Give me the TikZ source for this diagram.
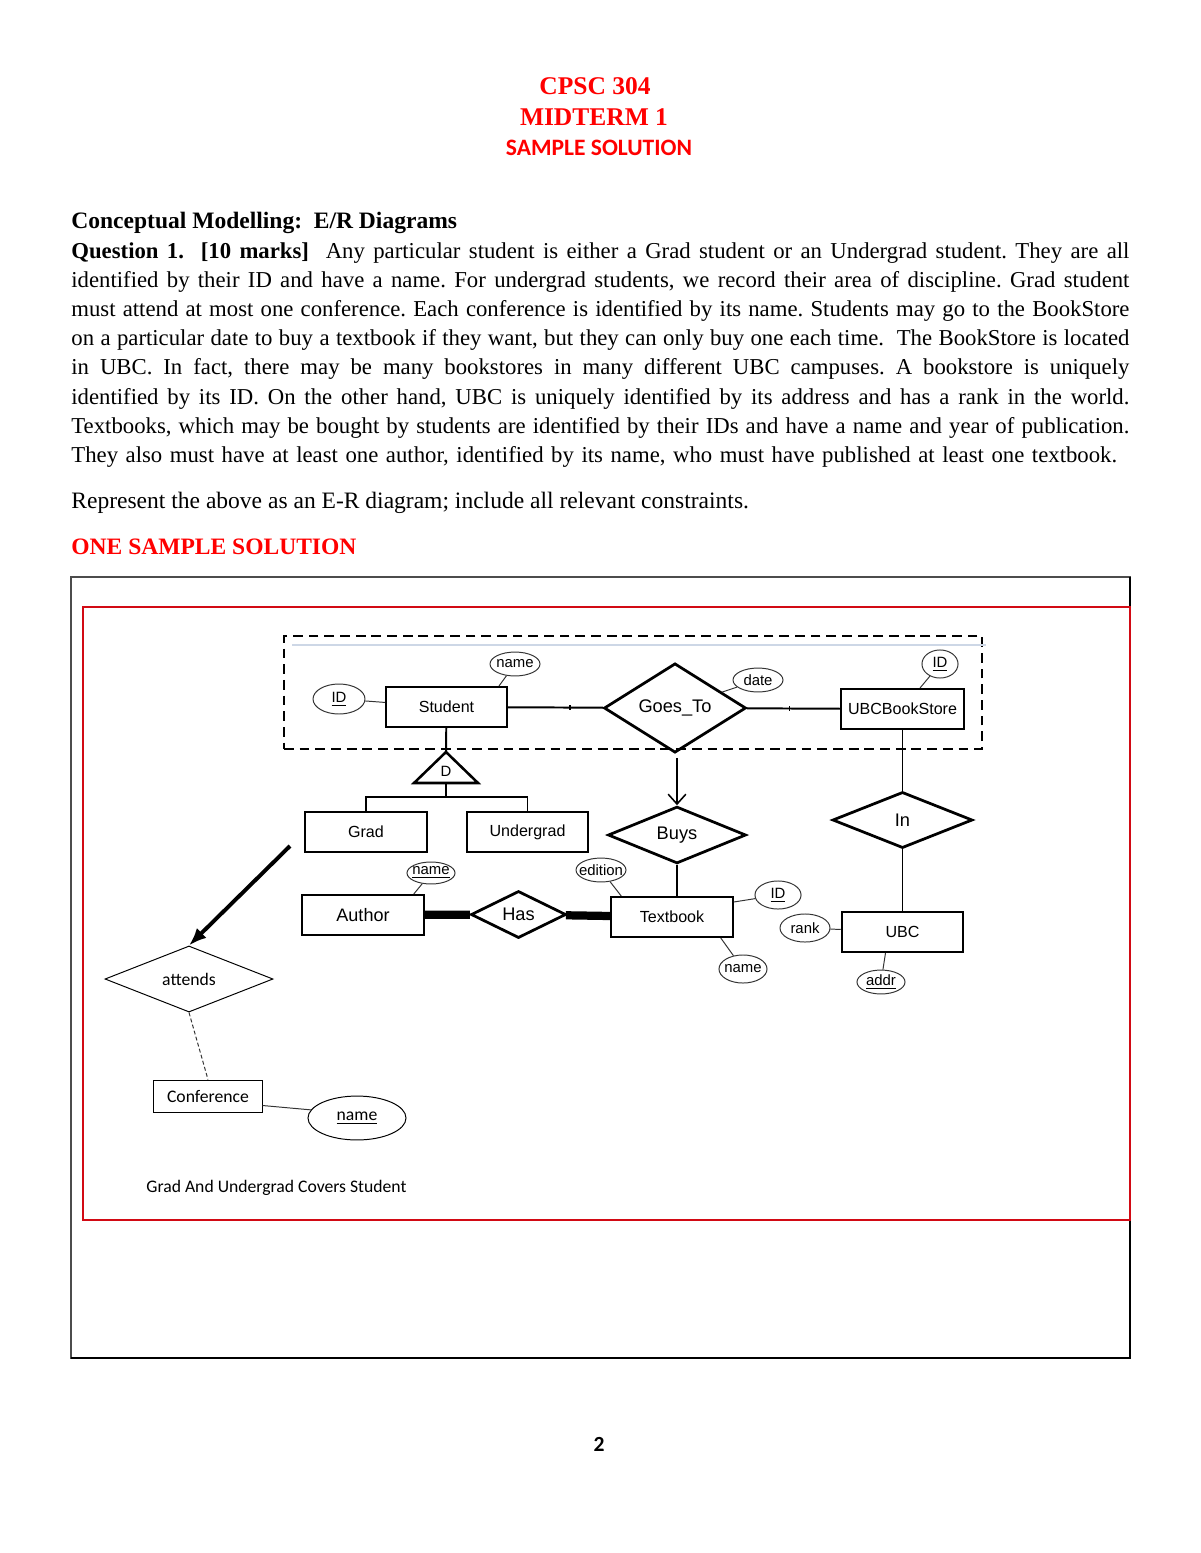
\documentclass[tikz,border=0pt]{standalone}
\usepackage{fontspec}
\setmainfont{Liberation Serif}
\setsansfont{Liberation Sans}
\newfontfamily\calibri{Carlito}
\usetikzlibrary{shapes.geometric, arrows.meta, positioning, calc}

\definecolor{titlered}{RGB}{255,0,0}
\definecolor{boxred}{RGB}{210,10,20}
\definecolor{faintblue}{RGB}{205,215,230}

\newcommand{\att}[1]{\makebox[0pt]{#1}}
\newcommand{\fullline}[1]{\leavevmode\hbox to 539.6pt{\spaceskip=0.25em plus 0.6em minus 0.1em\relax #1}}
\frenchspacing

\begin{document}
\begin{tikzpicture}[x=0.51pt, y=-0.51pt,
    entity/.style={rectangle, draw, line width=1pt, minimum width=62pt, minimum height=20.4pt,
        inner sep=1pt, font=\sffamily\fontsize{8.2}{9}\selectfont},
    rel/.style={diamond, draw, line width=1.4pt, inner sep=0pt, font=\sffamily\fontsize{9.3}{10}\selectfont},
    attr/.style={ellipse, draw=black!80, line width=0.5pt, inner sep=0pt,
        font=\sffamily\fontsize{7.6}{8}\selectfont},
    aggbox/.style={rectangle, draw, line width=1.2pt, dash pattern=on 5pt off 3pt,
        minimum width=356pt, minimum height=57.6pt},
    link/.style={line width=0.5pt, black!80},
    erline/.style={line width=1pt},
    heavy/.style={line width=4.2pt},
    crossmark/.style={fill, inner sep=0pt, minimum width=0.7pt, minimum height=2.6pt},
    buysarr/.style={-{Straight Barb[length=5pt, width=9pt]}, line width=0.8pt},
    attarr/.style={-{Latex[length=9pt, width=7pt]}, line width=2pt},
    body/.style={inner sep=0pt, font=\fontsize{11.6}{14.9}\selectfont},
    single/.style={inner sep=0pt, font=\fontsize{12}{14.9}\selectfont},
    calib/.style={inner sep=0pt, font=\calibri\fontsize{9}{10}\selectfont}
]
    \fill[white] (0,0) rectangle (1200,1553);
    \useasboundingbox (0,0) rectangle (1200,1553);

    % Header
    \node[inner sep=0pt, font=\bfseries\fontsize{13}{15}\selectfont, text=titlered, anchor=base] (course) at (595,95) {CPSC 304};
    \node[inner sep=0pt, font=\bfseries\fontsize{13}{15}\selectfont, text=titlered, anchor=base] (exam) at (594,126) {MIDTERM 1};
    \node[inner sep=0pt, font=\calibri\bfseries\fontsize{12}{14}\selectfont, text=titlered, anchor=base] (sol) at (599,156) {SAMPLE SOLUTION};

    % Question text
    \node[single, font=\bfseries\fontsize{12}{14.9}\selectfont, anchor=base west] (topic) at (71,229) {Conceptual Modelling:\ \ E/R Diagrams};
    \node[body, text width=539.6pt, align=left, anchor=base west] (question) at (71,258) {%
        \fullline{\textbf{Question 1.\ \ [10 marks]}\ \ Any particular student is either a Grad student or an Undergrad student. They are all}\\
        \fullline{identified by their ID and have a name. For undergrad students, we record their area of discipline. Grad student}\\
        \fullline{must attend at most one conference. Each conference is identified by its name. Students may go to the BookStore}\\
        \fullline{on a particular date to buy a textbook if they want, but they can only buy one each time.\ \ The BookStore is located}\\
        \fullline{in UBC. In fact, there may be many bookstores in many different UBC campuses. A bookstore is uniquely}\\
        \fullline{identified by its ID. On the other hand, UBC is uniquely identified by its address and has a rank in the world.}\\
        \fullline{Textbooks, which may be bought by students are identified by their IDs and have a name and year of publication.}\\
        \leavevmode\hbox{They also must have at least one author, identified by its name, who must have published at least one textbook.}};
    \node[single, anchor=base west] (task) at (71,508) {Represent the above as an E-R diagram; include all relevant constraints.};
    \node[single, font=\bfseries\fontsize{12}{14.9}\selectfont, text=titlered, anchor=base west] (onesol) at (71,554) {ONE SAMPLE SOLUTION};

    % Frames
    \draw[line width=0.7pt, black!70] (71,577) rectangle (1130,1358);
    \draw[line width=1.3pt] (1130,577) -- (1130,1358) -- (71,1358);
    \draw[boxred, line width=1.5pt] (83,607) rectangle (1130,1220);

    % Aggregation Student - Goes_To - UBCBookStore
    \node[aggbox] (agg) at (633,692.5) {};
    \draw[faintblue, line width=0.6pt] (292,645) -- (986,645);

    \node[entity, minimum width=61.7pt] (student) at (446.5,707) {Student};
    \node[attr, minimum width=26.5pt, minimum height=15.3pt] (sid) at (339,699) {\att{\underline{ID}}};
    \node[attr, minimum width=25.5pt, minimum height=12.2pt] (sname) at (515,664) {\att{name}};
    \node[rel, minimum width=72.4pt, minimum height=28.6pt] (goesto) at (675,708) {Goes\_To};
    \node[attr, minimum width=25.5pt, minimum height=12.2pt] (date) at (758,680) {\att{date}};
    \node[entity, minimum width=62.7pt] (store) at (902.5,709) {UBCBookStore};
    \node[attr, minimum width=18.4pt, minimum height=14.3pt] (bid) at (940,664) {\att{\underline{ID}}};

    % ISA
    \draw[line width=1.3pt] (446,752) coordinate (isatop) -- (478,783) -- (414,783) -- cycle;
    \coordinate (isabot) at (446,783);
    \node[inner sep=0pt, font=\sffamily\fontsize{7.6}{8}\selectfont] (isalbl) at (446,771) {D};
    \node[entity] (grad) at (366,832) {Grad};
    \node[entity, minimum width=61.7pt] (ugrad) at (527.5,832) {Undergrad};

    % Lower part
    \node[rel, minimum width=70.4pt, minimum height=27.5pt] (buys) at (677,835) {Buys};
    \node[rel, minimum width=71.4pt, minimum height=28.6pt] (inrel) at (902.5,820) {In};
    \node[entity, font=\sffamily\fontsize{9.2}{10}\selectfont] (author) at (363,915) {Author};
    \node[attr, minimum width=24.5pt, minimum height=11.2pt] (aname) at (431,873) {\att{\underline{name}}};
    \node[rel, minimum width=48.5pt, minimum height=24pt] (has) at (518.5,914.5) {Has};
    \node[entity] (textbook) at (672,917) {Textbook};
    \node[attr, minimum width=25.5pt, minimum height=12.2pt] (edition) at (601,870) {\att{edition}};
    \node[attr, minimum width=23.5pt, minimum height=14.3pt] (tid) at (778,895) {\att{\underline{ID}}};
    \node[attr, minimum width=24.5pt, minimum height=14.3pt] (tname) at (743,969) {\att{name}};
    \node[entity] (ubc) at (902.5,932) {UBC};
    \node[attr, minimum width=25.5pt, minimum height=14.3pt] (rank) at (805,928) {\att{rank}};
    \node[attr, minimum width=24.5pt, minimum height=12.2pt] (addr) at (881,982) {\att{\underline{addr}}};

    % Grad attends Conference
    \node[diamond, draw, line width=0.5pt, inner sep=0pt, minimum width=85.7pt, minimum height=33.7pt,
        font=\calibri\fontsize{9}{10}\selectfont] (attends) at (189,979) {attends};
    \node[rectangle, draw, line width=0.5pt, minimum width=55.1pt, minimum height=16.8pt,
        font=\calibri\fontsize{9}{10}\selectfont] (conf) at (208,1096.5) {Conference};
    \node[ellipse, draw, line width=0.5pt, inner sep=0pt, minimum width=50pt, minimum height=22.4pt,
        font=\calibri\fontsize{9}{10}\selectfont] (cname) at (357,1118) {\underline{name}};
    \coordinate (gradout) at (290,846);

    % Connectors
    \draw[link] (sid) -- (student);
    \draw[link] (sname) -- ($(student.north east)+(-9,0)$);
    \draw[erline] (student) -- node[pos=0.65, crossmark] {} (goesto);
    \draw[erline] (goesto) -- node[pos=0.46, crossmark] {} (store);
    \draw[link] (date) -- (goesto);
    \draw[link] (bid) -- (store);
    \draw[erline] (student) -- (isatop);
    \draw[line width=0.8pt] (isabot) -- ++(0,14) coordinate (isajoin);
    \draw[line width=0.8pt] (grad.north) |- (isajoin) -| (ugrad.north);
    \draw[buysarr, shorten <=4pt] (agg.south -| buys) -- (buys.north);
    \draw[erline] (buys.south) -- (buys.south |- textbook.north);
    \draw[heavy] (author) -- (has);
    \draw[heavy] (has) -- (textbook);
    \draw[link] (aname) -- ($(author.north east)+(-11,0)$);
    \draw[link] (edition) -- ($(textbook.north west)+(11,0)$);
    \draw[link] (tid) -- ($(textbook.east)+(0,-15)$);
    \draw[link] (tname) -- ($(textbook.south east)+(-13,0)$);
    \draw[erline] (store) -- (inrel);
    \draw[erline] (inrel) -- (ubc);
    \draw[link] (rank) -- (ubc);
    \draw[link] (addr) -- ($(ubc.south)+(-17,0)$);
    \draw[attarr] (gradout) -- (attends.north);
    \draw[link, dash pattern=on 2pt off 1.2pt] (attends.south) -- (conf.north);
    \draw[link] ($(conf.east)+(0,9)$) -- (cname.170);

    \node[calib, anchor=west] (caption) at (146,1188) {Grad And Undergrad Covers Student};
    \node[inner sep=0pt, font=\calibri\bfseries\fontsize{11}{12}\selectfont] (pagenum) at (599,1444) {2};
\end{tikzpicture}
\end{document}
